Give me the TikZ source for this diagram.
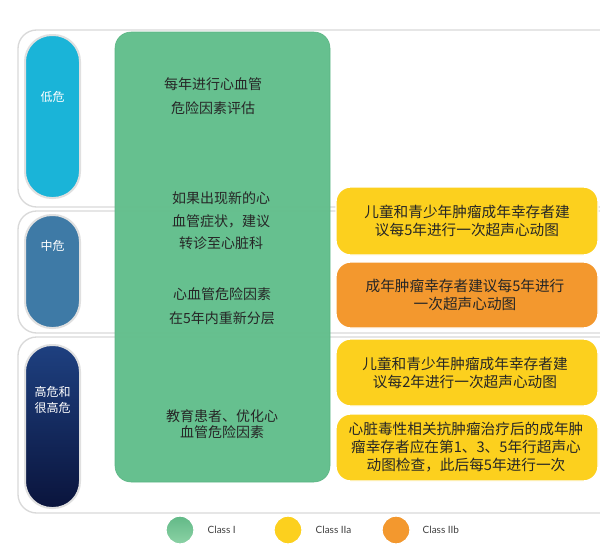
\documentclass[tikz,border=0pt]{standalone}
\usepackage{fontspec}
\setmainfont{Noto Sans CJK SC}
\newfontfamily\latin{Lato}
\begin{document}
\begin{tikzpicture}[x=0.75pt,y=-0.75pt,
 band/.style={draw=black!15,line width=1pt,fill=white,rounded corners=14pt},
 pill/.style={draw=black!12,line width=1.5pt,rounded corners=20pt},
 rbox/.style={draw=white,line width=1pt,rounded corners=11pt},
 gt/.style={font=\fontsize{10.5}{15}\selectfont,align=center,text=black!85},
 rt/.style={font=\fontsize{11}{13.5}\selectfont,align=center,text=black!85},
 pt/.style={font=\fontsize{9}{12}\selectfont,align=center,text=white},
 lt/.style={font=\latin\fontsize{7.5}{9}\selectfont,text=black!75,anchor=west}]
\useasboundingbox (0,0) rectangle (600,553);
\fill[white] (0,0) rectangle (600,553);
\draw[band] (18,30) rectangle (620,207);
\draw[band] (18,211) rectangle (620,333);
\draw[band] (18,337) rectangle (620,513);
\draw[pill,fill={rgb,255:red,26;green,180;blue,216}] (25,35) rectangle (80,198);
\draw[pill,fill={rgb,255:red,62;green,122;blue,166}] (25,215) rectangle (80,328);
\draw[pill,top color={rgb,255:red,30;green,64;blue,128},bottom color={rgb,255:red,10;green,20;blue,60}] (25,345) rectangle (80,508);
\node[pt] (p1) at (52.5,97) {低危};
\node[pt] (p2) at (52.5,246) {中危};
\node[pt] (p3) at (52.5,400) {高危和\\很高危};
\draw[rounded corners=12pt,draw={rgb,255:red,90;green,180;blue,130},fill={rgb,255:red,98;green,190;blue,140},opacity=0.97] (115,32) rectangle (330,482);
\node[gt] (g1) at (213,96) {每年进行心血管\\[3pt]危险因素评估};
\node[gt] (g2) at (221,221) {如果出现新的心\\[2pt]血管症状，建议\\[2pt]转诊至心脏科};
\node[gt] (g3) at (222,306) {心血管危险因素\\[3pt]在5年内重新分层};
\node[gt] (g4) at (222,424) {教育患者、优化心\\[-3pt]血管危险因素};
\draw[rbox,fill={rgb,255:red,252;green,208;blue,30}] (336,187) rectangle (598,255);
\draw[rbox,fill={rgb,255:red,243;green,152;blue,46}] (336,262) rectangle (598,328);
\draw[rbox,fill={rgb,255:red,252;green,208;blue,30}] (336,339) rectangle (598,406);
\draw[rbox,fill={rgb,255:red,252;green,208;blue,30}] (336,414) rectangle (598,481);
\node[rt] (r1) at (467,221) {儿童和青少年肿瘤成年幸存者建\\议每5年进行一次超声心动图};
\node[rt] (r2) at (465,295) {成年肿瘤幸存者建议每5年进行\\一次超声心动图};
\node[rt] (r3) at (465,373) {儿童和青少年肿瘤成年幸存者建\\议每2年进行一次超声心动图};
\node[rt] (r4) at (466,447) {心脏毒性相关抗肿瘤治疗后的成年肿\\瘤幸存者应在第1、3、5年行超声心\\动图检查，此后每5年进行一次};
\draw[white,line width=1pt,top color={rgb,255:red,98;green,185;blue,135},bottom color={rgb,255:red,140;green,210;blue,165}] (180,530) circle (14);
\draw[white,line width=1pt,fill={rgb,255:red,252;green,208;blue,30}] (288,530) circle (14);
\draw[white,line width=1pt,fill={rgb,255:red,243;green,152;blue,46}] (396,530) circle (14);
\node[lt] (l1) at (203,530) {Class I};
\node[lt] (l2) at (311,530) {Class IIa};
\node[lt] (l3) at (418,530) {Class IIb};
\end{tikzpicture}
\end{document}
